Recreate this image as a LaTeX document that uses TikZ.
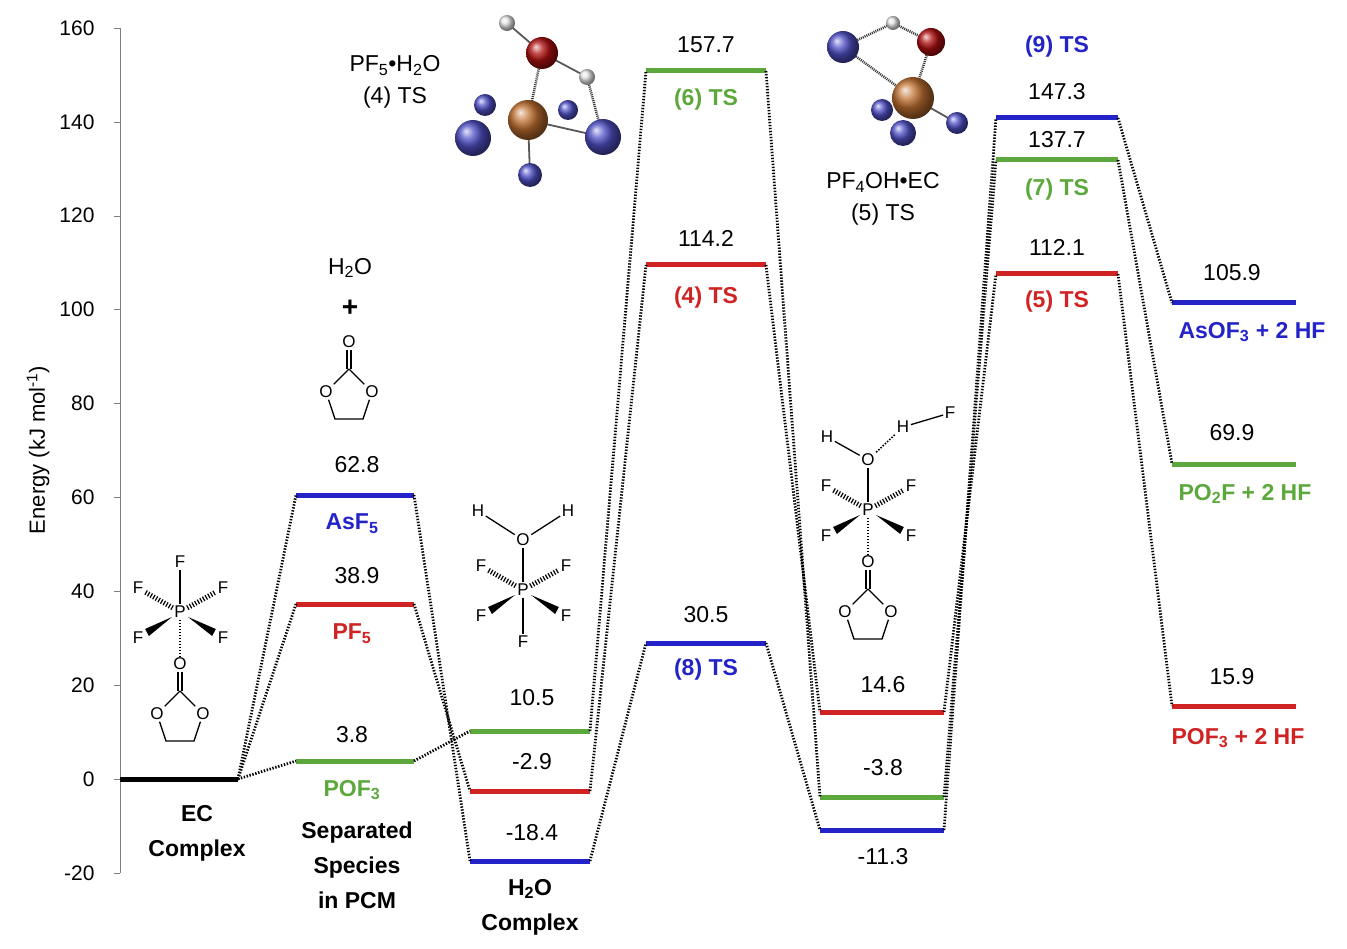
\documentclass[tikz,border=0pt]{standalone}
\usepackage{fontspec}
\setmainfont{Liberation Sans}
\usetikzlibrary{calc}
\definecolor{cb}{HTML}{2323C8}
\definecolor{cr}{HTML}{D02424}
\definecolor{cg}{HTML}{5CA83C}
\definecolor{fball}{HTML}{5050C8}
\definecolor{pball}{HTML}{C07030}
\definecolor{oball}{HTML}{B01010}
\tikzset{
 lev/.style={line width=5pt},
 dots/.style={line width=2.8pt, dash pattern=on 1.4pt off 1.6pt},
 val/.style={font=\fontsize{23}{26}\selectfont},
 lab/.style={font=\bfseries\fontsize{23}{35}\selectfont, align=center},
 atom/.style={font=\fontsize{17}{18}\selectfont, inner sep=1.5pt},
 hashb/.style={line width=5pt, dash pattern=on 1.2pt off 1.8pt},
 dbond/.style={line width=1.6pt, dash pattern=on 1.5pt off 1.5pt},
 bond/.style={line width=1.3pt},
 tick/.style={font=\fontsize{21}{24}\selectfont, anchor=east},
 mbond/.style={line width=1.8pt, gray!70!black},
 mdot/.style={line width=2.5pt, dash pattern=on 1pt off 1pt, black!80}
}
\newcommand\level[5]{\coordinate (#1L) at (#2,#4); \coordinate (#1R) at (#3,#4); \draw[lev,#5] (#1L)--(#1R);}
\newcommand\octa[7]{%
 \begin{scope}[shift={(#1,#2)}]
 \node[atom] (#7P) at (0,0) {P};
 \node[atom] (#7T) at (0,-50) {#3};
 \node[atom] (#7B) at (0,52) {#4};
 \node[atom] (#7ul) at (-42,-24) {F};
 \node[atom] (#7ur) at (43,-24) {F};
 \node[atom] (#7ll) at (-42,26) {F};
 \node[atom] (#7lr) at (43,26) {F};
 \draw[#5] (#7P)--(#7T);
 \draw[#6] (#7P)--(#7B);
 \draw[hashb] (#7P)--(#7ul);
 \draw[hashb] (#7P)--(#7ur);
 \fill (-8,5) -- (-31.1,24) -- (-34.9,17) -- cycle;
 \fill (8,5) -- (32.2,24) -- (35.8,17) -- cycle;
 \end{scope}}
\newcommand\ecring[2]{%
 \begin{scope}[shift={(#1)}]
 \coordinate (#2c) at (0,27);
 \node[atom] (#2l) at (-23,50) {O};
 \node[atom] (#2r) at (23,50) {O};
 \coordinate (#2a) at (-14,77);
 \coordinate (#2b) at (14,77);
 \draw[bond] ([xshift=-2pt]#1.south) -- ([xshift=-2pt]#2c);
 \draw[bond] ([xshift=2pt]#1.south) -- ([xshift=2pt]#2c);
 \draw[bond] (#2c)--(#2l); \draw[bond] (#2c)--(#2r);
 \draw[bond] (#2l)--(#2a)--(#2b)--(#2r);
 \end{scope}}
\newcommand\ball[4]{\shade[ball color=#4] (#1,#2) circle (#3);}
\begin{document}
\begin{tikzpicture}[x=1pt,y=-1pt]
\useasboundingbox (0,0) rectangle (1347,949);
% axis
\draw[gray, line width=1pt] (120,28) -- (120,873);
\foreach \v in {160,140,...,-20}{
  \node[tick] (t\v) at (98,{779-\v*4.694}) {\v};
  \draw[gray] (114,{779-\v*4.694}) -- (120,{779-\v*4.694});
}
\node[font=\fontsize{22}{24}\selectfont, rotate=90] (ytitle) at (38,450) {Energy (kJ mol\textsuperscript{-1})};
% levels
\level{ec}{120}{238}{779}{black}
\level{as}{296}{414}{495}{cb}
\level{pf}{296}{414}{604}{cr}
\level{po}{296}{414}{761}{cg}
\level{hg}{470}{590}{731}{cg}
\level{hr}{470}{590}{791}{cr}
\level{hb}{470}{590}{861}{cb}
\level{sg}{646}{766}{71}{cg}
\level{fr}{646}{766}{265}{cr}
\level{eb}{646}{766}{643}{cb}
\level{pr}{820}{944}{712}{cr}
\level{pg}{820}{944}{797}{cg}
\level{pb}{820}{944}{830}{cb}
\level{nb}{996}{1118}{118}{cb}
\level{vg}{996}{1118}{160}{cg}
\level{vr}{996}{1118}{274}{cr}
\level{fb}{1172}{1296}{303}{cb}
\level{fg}{1172}{1296}{464}{cg}
\level{ff}{1172}{1296}{706}{cr}
% connectors
\draw[dots] (ecR)--(asL); \draw[dots] (ecR)--(pfL); \draw[dots] (ecR)--(poL);
\draw[dots] (asR)--(hbL); \draw[dots] (pfR)--(hrL); \draw[dots] (poR)--(hgL);
\draw[dots] (hgR)--(sgL); \draw[dots] (hrR)--(frL); \draw[dots] (hbR)--(ebL);
\draw[dots] (sgR)--(pgL); \draw[dots] (frR)--(prL); \draw[dots] (ebR)--(pbL);
\draw[dots] (prR)--(vrL); \draw[dots] (pgR)--(vgL); \draw[dots] (pbR)--(nbL);
\draw[dots] (nbR)--(fbL); \draw[dots] (vgR)--(fgL); \draw[dots] (vrR)--(ffL);
% values
\node[val] (v1) at (357,465) {62.8};
\node[val] (v2) at (357,576) {38.9};
\node[val] (v3) at (352,735) {3.8};
\node[val] (v4) at (532,698) {10.5};
\node[val] (v5) at (532,762) {-2.9};
\node[val] (v6) at (532,833) {-18.4};
\node[val] (v7) at (706,45) {157.7};
\node[val] (v8) at (706,238) {114.2};
\node[val] (v9) at (706,615) {30.5};
\node[val] (v10) at (883,685) {14.6};
\node[val] (v11) at (883,768) {-3.8};
\node[val] (v12) at (883,857) {-11.3};
\node[val] (v13) at (1057,92) {147.3};
\node[val] (v14) at (1057,140) {137.7};
\node[val] (v15) at (1057,247) {112.1};
\node[val] (v16) at (1232,273) {105.9};
\node[val] (v17) at (1232,433) {69.9};
\node[val] (v18) at (1232,677) {15.9};
% labels
\node[lab, cb] (l1) at (352,524) {AsF\textsubscript{5}};
\node[lab, cr] (l2) at (352,634) {PF\textsubscript{5}};
\node[lab, cg] (l3) at (352,790) {POF\textsubscript{3}};
\node[lab, cg] (l4) at (706,100) {(6) TS};
\node[lab, cr] (l5) at (706,298) {(4) TS};
\node[lab, cb] (l6) at (706,670) {(8) TS};
\node[lab, cb] (l7) at (1057,47) {(9) TS};
\node[lab, cg] (l8) at (1057,190) {(7) TS};
\node[lab, cr] (l9) at (1057,302) {(5) TS};
\node[lab, cb] (l10) at (1252,332) {AsOF\textsubscript{3} + 2 HF};
\node[lab, cg] (l11) at (1245,494) {PO\textsubscript{2}F + 2 HF};
\node[lab, cr] (l12) at (1238,738) {POF\textsubscript{3} + 2 HF};
\node[lab] (b1) at (197,833) {EC\\Complex};
\node[lab] (b2) at (357,865) {Separated\\Species\\in PCM};
\node[lab] (b3) at (530,907) {H\textsubscript{2}O\\Complex};
\node[font=\fontsize{23}{32}\selectfont, align=center] (m1) at (395,82) {PF\textsubscript{5}•H\textsubscript{2}O\\(4) TS};
\node[font=\fontsize{23}{32}\selectfont, align=center] (m2) at (883,199) {PF\textsubscript{4}OH•EC\\(5) TS};
% separated species
\node[val] (h2o) at (350,268) {H\textsubscript{2}O};
\node[font=\bfseries\fontsize{28}{30}\selectfont] (plus) at (350,308) {+};
\node[atom] (sO) at (349,342) {O};
\ecring{sO}{sr}
% EC complex
\octa{180}{612}{F}{O}{bond}{dbond}{ec}
\ecring{ecB}{er}
% H2O complex
\octa{523}{590}{O}{F}{bond}{bond}{hc}
\node[atom] (hcH1) at (478,511) {H};
\node[atom] (hcH2) at (568,511) {H};
\draw[bond] (hcH1)--(hcT); \draw[bond] (hcH2)--(hcT);
% PF4OH.EC
\octa{868}{510}{O}{O}{bond}{dbond}{pc}
\ecring{pcB}{pr2}
\node[atom] (pcH1) at (827,437) {H};
\node[atom] (pcH2) at (903,427) {H};
\node[atom] (pcF) at (950,413) {F};
\draw[bond] (pcH1)--(pcT); \draw[dbond] (pcT)--(pcH2); \draw[bond] (pcH2)--(pcF);
% 3D molecule (4) TS
\draw[mbond] (507,23)--(542,53)--(587,77);
\draw[mdot] (542,53)--(528,120);
\draw[mdot] (587,77)--(603,137);
\draw[mbond] (528,120)--(603,137);
\draw[mbond] (528,120)--(530,175);
\ball{485}{105}{11}{fball}
\ball{568}{110}{10}{fball}
\ball{507}{23}{8}{gray!20}
\ball{542}{53}{16}{oball}
\ball{587}{77}{8}{gray!20}
\ball{528}{120}{20}{pball}
\ball{473}{138}{18}{fball}
\ball{603}{137}{18}{fball}
\ball{530}{175}{12}{fball}
% 3D molecule (5) TS
\draw[mdot] (843,47)--(893,23)--(931,42);
\draw[mdot] (843,47)--(913,98);
\draw[mdot] (931,42)--(913,98);
\draw[mbond] (913,98)--(957,123);
\ball{893}{23}{7}{gray!20}
\ball{843}{47}{16}{fball}
\ball{931}{42}{14}{oball}
\ball{882}{110}{11}{fball}
\ball{913}{98}{21}{pball}
\ball{957}{123}{11}{fball}
\ball{903}{133}{13}{fball}
\end{tikzpicture}
\end{document}
